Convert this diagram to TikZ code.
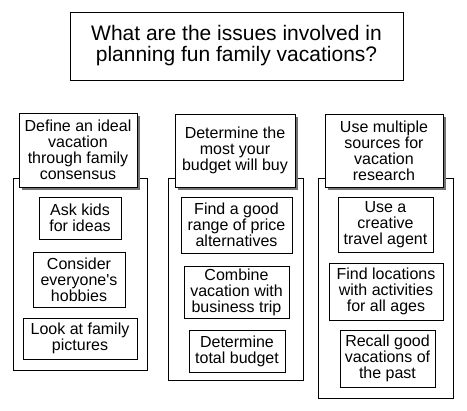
\documentclass[tikz,border=0pt]{standalone}
\usepackage{fontspec}
\setmainfont{Liberation Sans}
\usetikzlibrary{shadows}
\tikzset{
    panel/.style={rectangle,draw=black,line width=0.9pt,fill=white,inner sep=0},
    head/.style={panel,align=center,font=\fontsize{16}{16}\selectfont,
        drop shadow={shadow xshift=3pt,shadow yshift=-3pt,fill=black!55,opacity=1}},
    item/.style={panel,align=center,font=\fontsize{16}{16}\selectfont},
    question/.style={panel,align=center,font=\fontsize{21}{21}\selectfont}
}
\begin{document}
\begin{tikzpicture}[x=1pt,y=-1pt]
    \useasboundingbox (0,0) rectangle (467,411);
    \node[question, minimum width=333, minimum height=68] (issues) at (236.5,46)
        {What are the issues involved in\\planning fun family vacations?};
    % ideal vacation
    \node[panel, minimum width=134, minimum height=192] (idealbox) at (80,274) {};
    \node[head, minimum width=118, minimum height=74] (ideal) at (78,150)
        {Define an ideal\\vacation\\through family\\consensus};
    \node[item, minimum width=82, minimum height=42] (kids) at (80,218) {Ask kids\\for ideas};
    \node[item, minimum width=92, minimum height=55] (hobbies) at (79,279.5) {Consider\\everyone\textquotesingle s\\hobbies};
    \node[item, minimum width=114, minimum height=41] (pictures) at (80,338.5) {Look at family\\pictures};
    % budget
    \node[panel, minimum width=135, minimum height=202] (budgetbox) at (235.5,279) {};
    \node[head, minimum width=120, minimum height=73] (budget) at (235,150.5)
        {Determine the\\most your\\budget will buy};
    \node[item, minimum width=111, minimum height=56] (range) at (236.5,225) {Find a good\\range of price\\alternatives};
    \node[item, minimum width=105, minimum height=52] (business) at (236.5,292) {Combine\\vacation with\\business trip};
    \node[item, minimum width=96, minimum height=42] (total) at (237,351) {Determine\\total budget};
    % research
    \node[panel, minimum width=135, minimum height=220] (sourcesbox) at (385.5,288) {};
    \node[head, minimum width=118, minimum height=73] (sources) at (384,150.5)
        {Use multiple\\sources for\\vacation\\research};
    \node[item, minimum width=95, minimum height=55] (agent) at (385.5,224.5) {Use a\\creative\\travel agent};
    \node[item, minimum width=114, minimum height=57] (locations) at (386,291.5) {Find locations\\with activities\\for all ages};
    \node[item, minimum width=95, minimum height=57] (past) at (387.5,358.5) {Recall good\\vacations of\\the past};
\end{tikzpicture}
\end{document}
